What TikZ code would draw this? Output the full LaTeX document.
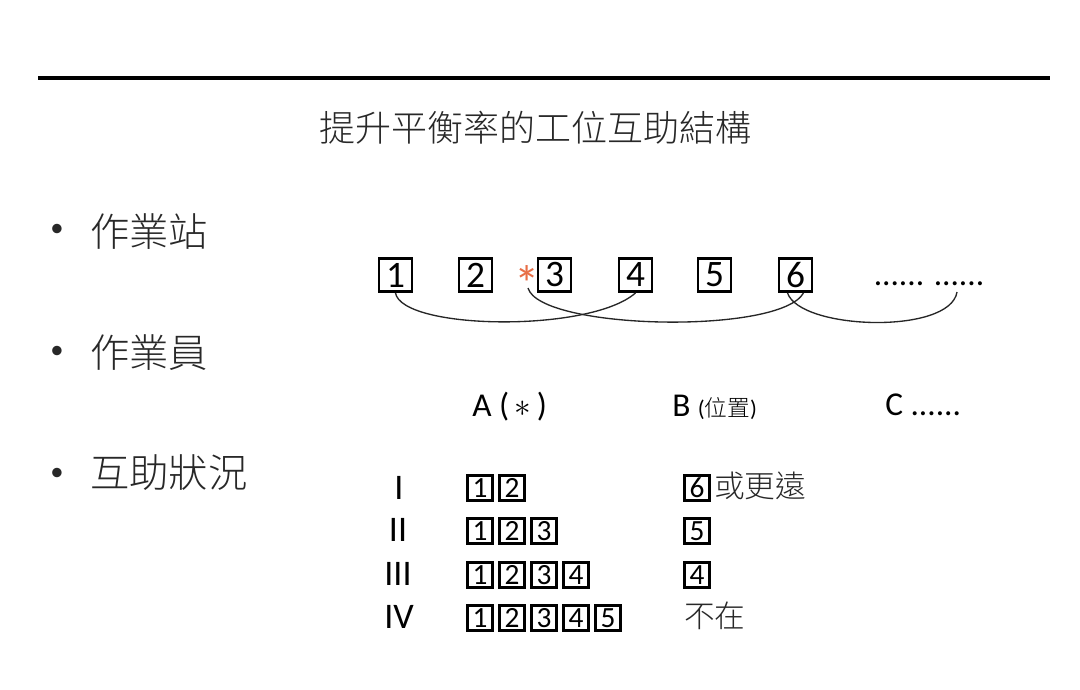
\documentclass[tikz,border=0pt]{standalone}
\usepackage{fontspec}
\setmainfont{Carlito}
\newfontfamily\cjk{Noto Sans CJK TC Light}
\definecolor{txt}{RGB}{40,40,40}
\definecolor{astc}{RGB}{232,110,70}
\tikzset{
  bigbox/.style={draw=black, line width=2.1pt, minimum size=24.8pt, inner sep=0pt, font=\fontsize{28}{28}\selectfont},
  smallbox/.style={draw=black, line width=1.9pt, minimum size=19pt, inner sep=0pt, font=\fontsize{22}{22}\selectfont},
  arcline/.style={line width=1pt, black!85},
  titletxt/.style={font=\cjk\fontsize{27}{27}\selectfont, text=txt},
  bullettxt/.style={font=\cjk\fontsize{29.5}{29.5}\selectfont, text=txt, anchor=west, inner sep=0pt},
  bulletdot/.style={font=\fontsize{20}{20}\selectfont, text=txt, inner sep=0pt},
  latintxt/.style={font=\fontsize{25}{25}\selectfont, text=black, inner sep=0pt},
  roman/.style={font=\fontsize{27}{27}\selectfont, text=black, inner sep=0pt},
  cjksmall/.style={font=\cjk\fontsize{23}{23}\selectfont, text=txt, inner sep=0pt, anchor=west},
}
\begin{document}
\begin{tikzpicture}[x=0.75pt,y=-0.75pt]
\path[use as bounding box, fill=white] (0,0) rectangle (1080,689);
% top rule
\coordinate (r1) at (38,78);
\coordinate (r2) at (1050,78);
\draw[line width=2.6pt] (r1) -- (r2);
% title
\node[titletxt] (title) at (535,128) {提升平衡率的工位互助結構};
% bullets
\node[bulletdot] (b1) at (57,230) {•};
\node[bulletdot] (b2) at (57,352) {•};
\node[bulletdot] (b3) at (57,474) {•};
\node[bullettxt] (t1) at (90,232) {作業站};
\node[bullettxt] (t2) at (90,353) {作業員};
\node[bullettxt] (t3) at (90,473) {互助狀況};
% stations
\node[bigbox] (s1) at (395.5,275) {1};
\node[bigbox] (s2) at (475.5,275) {2};
\node[bigbox] (s3) at (554.5,275) {3};
\node[bigbox] (s4) at (635.5,275) {4};
\node[bigbox] (s5) at (714.5,275) {5};
\node[bigbox] (s6) at (795.5,275) {6};
\node[font=\fontsize{38}{38}\selectfont, text=astc, inner sep=0pt] (ast) at (527,284) {*};
\node[latintxt, anchor=base] (d1) at (899,285) {......};
\node[latintxt, anchor=base] (d2) at (959,285) {......};
\coordinate (dend) at (957,292);
\coordinate (astb) at (528,288);
% arcs
\draw[arcline] (s1.south) .. controls (402,330) and (590,333) .. (s4.south);
\draw[arcline] (astb) .. controls (540,330) and (780,335) .. ([xshift=6pt]s6.south);
\draw[arcline] ([xshift=-6pt]s6.south) .. controls (800,330) and (950,335) .. (dend);
% operators
\node[latintxt, anchor=west] (A) at (472,407) {A (\,{\fontsize{32}{32}\selectfont$\ast$}\,)};
\node[latintxt, anchor=west] (B) at (672,407) {B {\fontsize{17}{17}\selectfont(\cjk 位置\fontspec{Carlito})}};
\node[latintxt, anchor=west] (C) at (885,405) {C ......};
% rows
\node[roman] (r1n) at (399,488) {I};
\node[roman] (r2n) at (398,530) {II};
\node[roman] (r3n) at (398,574) {III};
\node[roman] (r4n) at (399,617) {IV};
% row I
\node[smallbox] (a11) at (480,488) {1};
\node[smallbox] (a12) at (512,488) {2};
% row II
\node[smallbox] (a21) at (480,531) {1};
\node[smallbox] (a22) at (512,531) {2};
\node[smallbox] (a23) at (544,531) {3};
% row III
\node[smallbox] (a31) at (480,575) {1};
\node[smallbox] (a32) at (512,575) {2};
\node[smallbox] (a33) at (544,575) {3};
\node[smallbox] (a34) at (576,575) {4};
% row IV
\node[smallbox] (a41) at (480,618) {1};
\node[smallbox] (a42) at (512,618) {2};
\node[smallbox] (a43) at (544,618) {3};
\node[smallbox] (a44) at (576,618) {4};
\node[smallbox] (a45) at (608,618) {5};
% right column
\node[smallbox] (c1) at (697,488) {6};
\node[cjksmall] (c1t) at (714,486) {或更遠};
\node[smallbox] (c2) at (697,531) {5};
\node[smallbox] (c3) at (697,575) {4};
\node[cjksmall] (c4t) at (684,616) {不在};
\end{tikzpicture}
\end{document}
